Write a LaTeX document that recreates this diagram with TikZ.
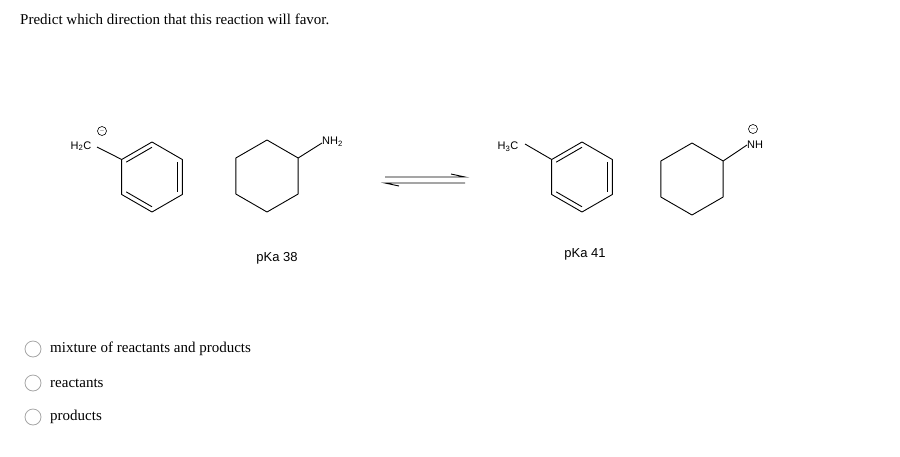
\documentclass[tikz,border=0pt]{standalone}
\usepackage{fontspec}
\setmainfont{Liberation Serif}
\newfontfamily\arial{Liberation Sans}
\usetikzlibrary{calc}
\begin{document}
\begin{tikzpicture}[x=1pt,y=-1pt,
  bond/.style={line width=0.9pt,line join=round},
  lbl/.style={font=\arial\fontsize{11}{12}\selectfont,inner sep=0pt},
  chg/.style={circle,draw,line width=0.6pt,minimum size=9pt,inner sep=0pt},
  radio/.style={circle,draw=gray!70,line width=0.8pt,minimum size=16pt,inner sep=0pt},
  opt/.style={font=\fontsize{15}{17}\selectfont,anchor=west,inner sep=0pt}]
\useasboundingbox (0,0) rectangle (900,456);
\node[font=\fontsize{15}{17}\selectfont,anchor=west,inner sep=0pt] (title) at (20,19) {Predict which direction that this reaction will favor.};
% benzene 1
\foreach \a in {90,150,...,450} \coordinate (b1-\a) at ({152+35*cos(\a)},{177-35*sin(\a)});
\draw[bond] (b1-90)--(b1-150)--(b1-210)--(b1-270)--(b1-330)--(b1-390)--cycle;
\path (152,177) coordinate (k1);
\draw[bond] ($(b1-90)!0.15!(k1)$) -- ($(b1-150)!0.15!(k1)$);
\draw[bond] ($(b1-330)!0.15!(k1)$) -- ($(b1-390)!0.15!(k1)$);
\draw[bond] ($(b1-210)!0.15!(k1)$) -- ($(b1-270)!0.15!(k1)$);
\node[lbl] (h2c) at (81,146) {H\textsubscript{2}C};
\draw[bond] (97,147) -- (b1-150);
\node[chg] (ch1) at (102,131) {\tiny$-$};
% cyclohexane 1
\foreach \a in {90,150,...,450} \coordinate (c1-\a) at ({267+36*cos(\a)},{176-36*sin(\a)});
\draw[bond] (c1-90)--(c1-150)--(c1-210)--(c1-270)--(c1-330)--(c1-390)--cycle;
\draw[bond] (c1-390) -- (322,143);
\node[lbl,anchor=west] (nh2) at (322,142) {NH\textsubscript{2}};
% arrows
\coordinate (a1) at (385,177); \coordinate (a2) at (465,177);
\coordinate (a3) at (465,183); \coordinate (a4) at (385,183);
\draw[line width=0.9pt] (a1) -- (a2) -- ++(-14,-3);
\draw[line width=0.9pt] (a3) -- (a4) -- ++(14,3);
% benzene 2
\foreach \a in {90,150,...,450} \coordinate (b2-\a) at ({582+35*cos(\a)},{177-35*sin(\a)});
\draw[bond] (b2-90)--(b2-150)--(b2-210)--(b2-270)--(b2-330)--(b2-390)--cycle;
\path (582,177) coordinate (k2);
\draw[bond] ($(b2-90)!0.15!(k2)$) -- ($(b2-150)!0.15!(k2)$);
\draw[bond] ($(b2-330)!0.15!(k2)$) -- ($(b2-390)!0.15!(k2)$);
\draw[bond] ($(b2-210)!0.15!(k2)$) -- ($(b2-270)!0.15!(k2)$);
\node[lbl] (h3c) at (508,147) {H\textsubscript{3}C};
\draw[bond] (525,144) -- (b2-150);
% cyclohexane 2
\foreach \a in {90,150,...,450} \coordinate (c2-\a) at ({692+36*cos(\a)},{179-36*sin(\a)});
\draw[bond] (c2-90)--(c2-150)--(c2-210)--(c2-270)--(c2-330)--(c2-390)--cycle;
\draw[bond] (c2-390) -- (747,145);
\node[lbl,anchor=west] (nh) at (747,145) {NH};
\node[chg] (ch2) at (753,129) {\tiny$-$};
% pKa
\node[lbl,font=\arial\fontsize{13}{14}\selectfont] (pk1) at (277,258) {pKa 38};
\node[lbl,font=\arial\fontsize{13}{14}\selectfont] (pk2) at (585,254) {pKa 41};
% options
\node[radio] (r1) at (33,349) {}; \node[opt] (o1) at (50,349) {mixture of reactants and products};
\node[radio] (r2) at (33,383) {}; \node[opt] (o2) at (50,383) {reactants};
\node[radio] (r3) at (33,417) {}; \node[opt] (o3) at (50,417) {products};
\end{tikzpicture}
\end{document}
